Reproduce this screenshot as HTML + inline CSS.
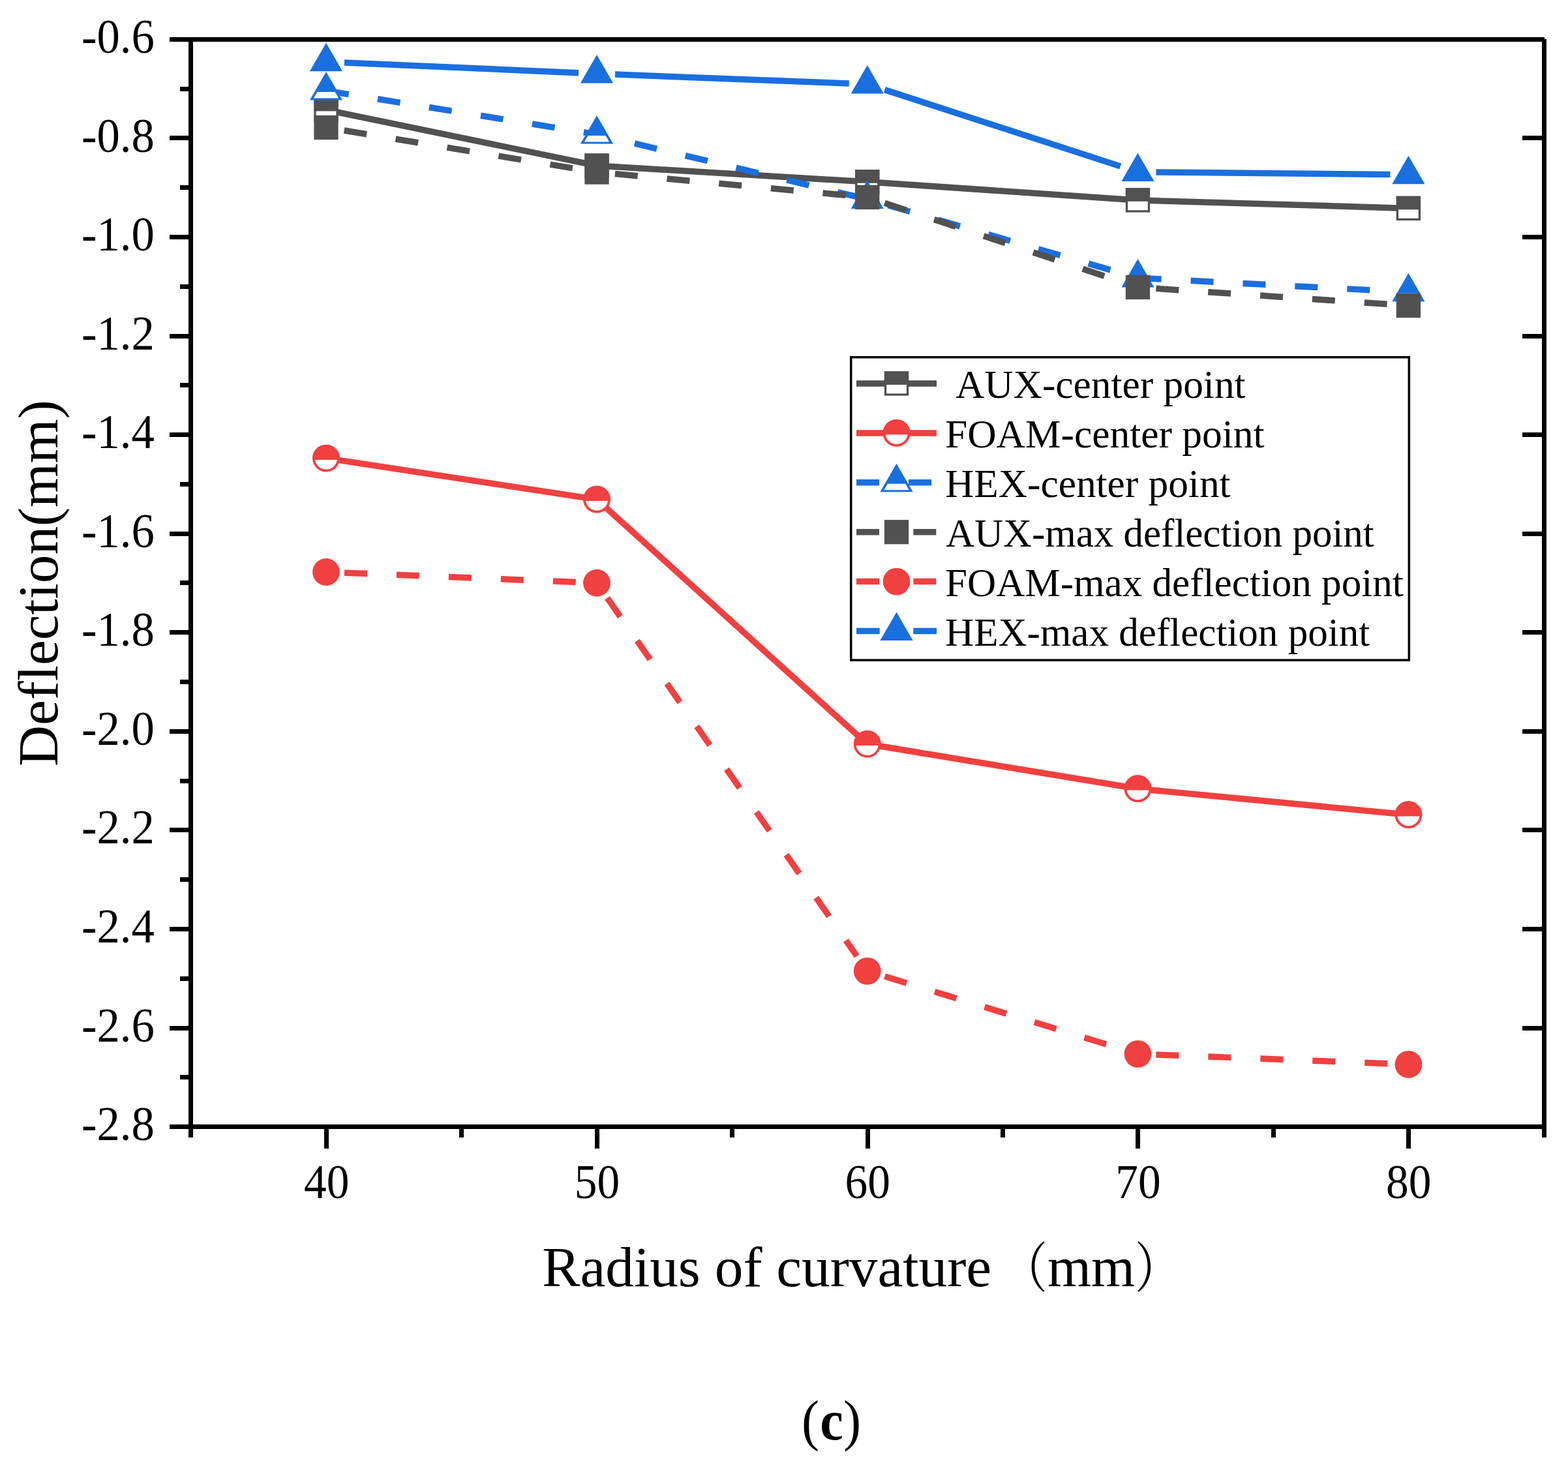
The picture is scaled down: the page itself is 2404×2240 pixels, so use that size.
<!DOCTYPE html>
<html lang="en">
<head>
<meta charset="utf-8">
<title>Deflection vs radius of curvature (c)</title>
<style>
html,body{margin:0;padding:0;background:#fff;}
body{width:2404px;height:2240px;overflow:hidden;}
svg{display:block;}
</style>
</head>
<body>
<svg width="2404" height="2240" viewBox="0 0 2404 2240">
<rect width="2404" height="2240" fill="#fff"/>
<g id="plot">
<path d="M500 168.5 L915 254 L1329.7 278.85 L1744.45 306.9 L2159.4 319.4" fill="none" stroke="#515151" stroke-width="9.5" stroke-linejoin="round"/>
<rect x="483" y="151.5" width="34" height="34" fill="#fff" stroke="#515151" stroke-width="3.3"/>
<rect x="481.35" y="149.85" width="37.3" height="20.55" fill="#515151"/>
<rect x="898" y="237" width="34" height="34" fill="#fff" stroke="#515151" stroke-width="3.3"/>
<rect x="896.35" y="235.35" width="37.3" height="20.55" fill="#515151"/>
<rect x="1312.7" y="261.85" width="34" height="34" fill="#fff" stroke="#515151" stroke-width="3.3"/>
<rect x="1311.05" y="260.2" width="37.3" height="20.55" fill="#515151"/>
<rect x="1727.45" y="289.9" width="34" height="34" fill="#fff" stroke="#515151" stroke-width="3.3"/>
<rect x="1725.8" y="288.25" width="37.3" height="20.55" fill="#515151"/>
<rect x="2142.4" y="302.4" width="34" height="34" fill="#fff" stroke="#515151" stroke-width="3.3"/>
<rect x="2140.75" y="300.75" width="37.3" height="20.55" fill="#515151"/>
<path d="M500 702.6 L915 765.7 L1329.7 1140.8 L1744.45 1209.2 L2159.4 1249.2" fill="none" stroke="#F14040" stroke-width="9.5" stroke-linejoin="round"/>
<circle cx="500" cy="702.6" r="19" fill="#fff" stroke="#F14040" stroke-width="3.8"/>
<path d="M479.23 704.9 A20.9 20.9 0 1 1 520.77 704.9 Z" fill="#F14040"/>
<circle cx="915" cy="765.7" r="19" fill="#fff" stroke="#F14040" stroke-width="3.8"/>
<path d="M894.23 768 A20.9 20.9 0 1 1 935.77 768 Z" fill="#F14040"/>
<circle cx="1329.7" cy="1140.8" r="19" fill="#fff" stroke="#F14040" stroke-width="3.8"/>
<path d="M1308.93 1143.1 A20.9 20.9 0 1 1 1350.47 1143.1 Z" fill="#F14040"/>
<circle cx="1744.45" cy="1209.2" r="19" fill="#fff" stroke="#F14040" stroke-width="3.8"/>
<path d="M1723.68 1211.5 A20.9 20.9 0 1 1 1765.22 1211.5 Z" fill="#F14040"/>
<circle cx="2159.4" cy="1249.2" r="19" fill="#fff" stroke="#F14040" stroke-width="3.8"/>
<path d="M2138.63 1251.5 A20.9 20.9 0 1 1 2180.17 1251.5 Z" fill="#F14040"/>
<path d="M500 139 L915 206 L1329.7 305.5 L1744.45 426.1 L2159.4 447.8" fill="none" stroke="#1A6FDF" stroke-width="9.5" stroke-linejoin="round" stroke-dasharray="35 45"/>
<path d="M500 110 L525.11 153.5 L474.89 153.5 Z" fill="#1A6FDF"/>
<path d="M486.37 141 L513.63 141 L519.11 150.5 L480.89 150.5 Z" fill="#fff"/>
<path d="M915 177 L940.11 220.5 L889.89 220.5 Z" fill="#1A6FDF"/>
<path d="M901.37 208 L928.63 208 L934.11 217.5 L895.89 217.5 Z" fill="#fff"/>
<path d="M1329.7 276.5 L1354.81 320 L1304.59 320 Z" fill="#1A6FDF"/>
<path d="M1316.07 307.5 L1343.33 307.5 L1348.81 317 L1310.59 317 Z" fill="#fff"/>
<path d="M1744.45 397.1 L1769.56 440.6 L1719.34 440.6 Z" fill="#1A6FDF"/>
<path d="M1730.82 428.1 L1758.08 428.1 L1763.56 437.6 L1725.34 437.6 Z" fill="#fff"/>
<path d="M2159.4 418.8 L2184.51 462.3 L2134.29 462.3 Z" fill="#1A6FDF"/>
<path d="M2145.77 449.8 L2173.03 449.8 L2178.51 459.3 L2140.29 459.3 Z" fill="#fff"/>
<path d="M527.63 200.06 L887.37 259.44" fill="none" stroke="#515151" stroke-width="9.5" stroke-dasharray="35 45"/>
<path d="M942.88 266.58 L1301.82 299.82" fill="none" stroke="#515151" stroke-width="9.5" stroke-dasharray="35 45"/>
<path d="M1356.27 311.24 L1717.88 431.56" fill="none" stroke="#515151" stroke-width="9.5" stroke-dasharray="35 45"/>
<path d="M1772.39 442.29 L2131.46 466.61" fill="none" stroke="#515151" stroke-width="9.5" stroke-dasharray="35 45"/>
<rect x="481.35" y="176.85" width="37.3" height="37.3" fill="#515151"/>
<rect x="896.35" y="245.35" width="37.3" height="37.3" fill="#515151"/>
<rect x="1311.05" y="283.75" width="37.3" height="37.3" fill="#515151"/>
<rect x="1725.8" y="421.75" width="37.3" height="37.3" fill="#515151"/>
<rect x="2140.75" y="449.85" width="37.3" height="37.3" fill="#515151"/>
<path d="M527.98 878.13 L887.02 892.62" fill="none" stroke="#F14040" stroke-width="9.5" stroke-dasharray="35 45"/>
<path d="M931.01 916.72 L1313.69 1465.88" fill="none" stroke="#F14040" stroke-width="9.5" stroke-dasharray="35 45"/>
<path d="M1356.47 1497.05 L1717.68 1607.65" fill="none" stroke="#F14040" stroke-width="9.5" stroke-dasharray="35 45"/>
<path d="M1772.43 1616.93 L2131.42 1630.82" fill="none" stroke="#F14040" stroke-width="9.5" stroke-dasharray="35 45"/>
<circle cx="500" cy="877" r="20.9" fill="#F14040"/>
<circle cx="915" cy="893.75" r="20.9" fill="#F14040"/>
<circle cx="1329.7" cy="1488.85" r="20.9" fill="#F14040"/>
<circle cx="1744.45" cy="1615.85" r="20.9" fill="#F14040"/>
<circle cx="2159.4" cy="1631.9" r="20.9" fill="#F14040"/>
<path d="M527.97 95.93 L887.03 111.77" fill="none" stroke="#1A6FDF" stroke-width="9.5"/>
<path d="M942.98 114.08 L1301.72 127.92" fill="none" stroke="#1A6FDF" stroke-width="9.5"/>
<path d="M1356.33 137.64 L1717.82 254.96" fill="none" stroke="#1A6FDF" stroke-width="9.5"/>
<path d="M1772.45 263.88 L2131.4 267.42" fill="none" stroke="#1A6FDF" stroke-width="9.5"/>
<path d="M500 65.7 L525.11 109.2 L474.89 109.2 Z" fill="#1A6FDF"/>
<path d="M915 84 L940.11 127.5 L889.89 127.5 Z" fill="#1A6FDF"/>
<path d="M1329.7 100 L1354.81 143.5 L1304.59 143.5 Z" fill="#1A6FDF"/>
<path d="M1744.45 234.6 L1769.56 278.1 L1719.34 278.1 Z" fill="#1A6FDF"/>
<path d="M2159.4 238.7 L2184.51 282.2 L2134.29 282.2 Z" fill="#1A6FDF"/>
</g>
<g id="axes" fill="#000">
<rect x="260" y="57" width="2108" height="7"/>
<rect x="289" y="57" width="7" height="1687"/>
<rect x="2364" y="60" width="7" height="1684"/>
<rect x="260" y="1724" width="2111" height="7"/>
<rect x="276" y="133" width="13" height="7"/>
<rect x="260" y="208" width="29" height="7"/>
<rect x="2334" y="208" width="30" height="7"/>
<rect x="276" y="284" width="13" height="7"/>
<rect x="260" y="360" width="29" height="7"/>
<rect x="2334" y="360" width="30" height="7"/>
<rect x="276" y="436" width="13" height="7"/>
<rect x="260" y="512" width="29" height="7"/>
<rect x="2334" y="512" width="30" height="7"/>
<rect x="276" y="587" width="13" height="7"/>
<rect x="260" y="663" width="29" height="7"/>
<rect x="2334" y="663" width="30" height="7"/>
<rect x="276" y="739" width="13" height="7"/>
<rect x="260" y="815" width="29" height="7"/>
<rect x="2334" y="815" width="30" height="7"/>
<rect x="276" y="890" width="13" height="7"/>
<rect x="260" y="966" width="29" height="7"/>
<rect x="2334" y="966" width="30" height="7"/>
<rect x="276" y="1042" width="13" height="7"/>
<rect x="260" y="1118" width="29" height="7"/>
<rect x="2334" y="1118" width="30" height="7"/>
<rect x="276" y="1194" width="13" height="7"/>
<rect x="260" y="1269" width="29" height="7"/>
<rect x="2334" y="1269" width="30" height="7"/>
<rect x="276" y="1345" width="13" height="7"/>
<rect x="260" y="1421" width="29" height="7"/>
<rect x="2334" y="1421" width="30" height="7"/>
<rect x="276" y="1497" width="13" height="7"/>
<rect x="260" y="1573" width="29" height="7"/>
<rect x="2334" y="1573" width="30" height="7"/>
<rect x="276" y="1648" width="13" height="7"/>
<rect x="497" y="1731" width="7" height="30"/>
<rect x="704" y="1731" width="7" height="13"/>
<rect x="912" y="1731" width="7" height="30"/>
<rect x="1119" y="1731" width="7" height="13"/>
<rect x="1327" y="1731" width="7" height="30"/>
<rect x="1534" y="1731" width="7" height="13"/>
<rect x="1741" y="1731" width="7" height="30"/>
<rect x="1949" y="1731" width="7" height="13"/>
<rect x="2156" y="1731" width="7" height="30"/>
</g>
<g id="ticklabels" font-family="'Liberation Serif', serif" fill="#000">
<text transform="translate(236.8 81) scale(0.9510 1)" font-size="74.3" text-anchor="end">-0.6</text>
<text transform="translate(236.8 232.55) scale(0.9510 1)" font-size="74.3" text-anchor="end">-0.8</text>
<text transform="translate(236.8 384.1) scale(0.9510 1)" font-size="74.3" text-anchor="end">-1.0</text>
<text transform="translate(236.8 535.65) scale(0.9510 1)" font-size="74.3" text-anchor="end">-1.2</text>
<text transform="translate(236.8 687.2) scale(0.9510 1)" font-size="74.3" text-anchor="end">-1.4</text>
<text transform="translate(236.8 838.75) scale(0.9510 1)" font-size="74.3" text-anchor="end">-1.6</text>
<text transform="translate(236.8 990.3) scale(0.9510 1)" font-size="74.3" text-anchor="end">-1.8</text>
<text transform="translate(236.8 1141.85) scale(0.9510 1)" font-size="74.3" text-anchor="end">-2.0</text>
<text transform="translate(236.8 1293.4) scale(0.9510 1)" font-size="74.3" text-anchor="end">-2.2</text>
<text transform="translate(236.8 1444.95) scale(0.9510 1)" font-size="74.3" text-anchor="end">-2.4</text>
<text transform="translate(236.8 1596.5) scale(0.9510 1)" font-size="74.3" text-anchor="end">-2.6</text>
<text transform="translate(236.8 1748.05) scale(0.9510 1)" font-size="74.3" text-anchor="end">-2.8</text>
<text transform="translate(500.8 1837.2) scale(0.9340 1)" font-size="74.3" text-anchor="middle">40</text>
<text transform="translate(915.55 1837.2) scale(0.9340 1)" font-size="74.3" text-anchor="middle">50</text>
<text transform="translate(1330.3 1837.2) scale(0.9340 1)" font-size="74.3" text-anchor="middle">60</text>
<text transform="translate(1745.05 1837.2) scale(0.9340 1)" font-size="74.3" text-anchor="middle">70</text>
<text transform="translate(2159.8 1837.2) scale(0.9340 1)" font-size="74.3" text-anchor="middle">80</text>
</g>
<g id="titles" font-family="'Liberation Serif', serif" fill="#000">
<text transform="translate(88 1175) rotate(-90) scale(0.9966 1)" font-size="87.5">Deflection(mm)</text>
<text transform="translate(831.2 1971.7) scale(0.9985 1)" font-size="87.5">Radius of curvature</text>
<text transform="translate(1536.76 1973.2) scale(0.8300 1)" font-size="83.2" font-family="'Liberation Serif', 'Noto Serif CJK SC', serif">（</text>
<text transform="translate(1606 1971.7) scale(0.9850 1)" font-size="87.5">mm</text>
<text transform="translate(1740.07 1973.2) scale(0.8300 1)" font-size="83.2" font-family="'Liberation Serif', 'Noto Serif CJK SC', serif">）</text>
<text transform="translate(1228.98 2206.9) scale(0.9300 1)" font-size="87.5">(</text>
<text transform="translate(1257.26 2206.9) scale(0.9150 1)" font-size="87.5" font-weight="bold">c</text>
<text transform="translate(1293.11 2206.9) scale(0.9300 1)" font-size="87.5">)</text>
</g>
<g id="legend">
<rect x="1304.7" y="547.7" width="855.6" height="464.4" fill="#fff" stroke="#000" stroke-width="3.5"/>
<path d="M1313 588 L1436 588" fill="none" stroke="#515151" stroke-width="9.5"/>
<rect x="1357.5" y="571" width="34" height="34" fill="#fff" stroke="#515151" stroke-width="3.3"/>
<rect x="1355.85" y="569.35" width="37.3" height="20.55" fill="#515151"/>
<path d="M1313 663.9 L1436 663.9" fill="none" stroke="#F14040" stroke-width="9.5"/>
<circle cx="1374.5" cy="663.9" r="19" fill="#fff" stroke="#F14040" stroke-width="3.8"/>
<path d="M1353.73 666.2 A20.9 20.9 0 1 1 1395.27 666.2 Z" fill="#F14040"/>
<path d="M1313 739.8 L1436 739.8" fill="none" stroke="#1A6FDF" stroke-width="9.5" stroke-dasharray="35 45"/>
<path d="M1374.5 710.8 L1399.61 754.3 L1349.39 754.3 Z" fill="#1A6FDF"/>
<path d="M1360.87 741.8 L1388.13 741.8 L1393.61 751.3 L1355.39 751.3 Z" fill="#fff"/>
<path d="M1313 815.7 L1348.7 815.7" fill="none" stroke="#515151" stroke-width="9.5" stroke-dasharray="35 45"/>
<path d="M1400.3 815.7 L1436 815.7" fill="none" stroke="#515151" stroke-width="9.5" stroke-dasharray="35 45"/>
<rect x="1355.85" y="797.05" width="37.3" height="37.3" fill="#515151"/>
<path d="M1313 891.6 L1348.7 891.6" fill="none" stroke="#F14040" stroke-width="9.5" stroke-dasharray="35 45"/>
<path d="M1400.3 891.6 L1436 891.6" fill="none" stroke="#F14040" stroke-width="9.5" stroke-dasharray="35 45"/>
<circle cx="1374.5" cy="891.6" r="20.9" fill="#F14040"/>
<path d="M1313 967.5 L1348.7 967.5" fill="none" stroke="#1A6FDF" stroke-width="9.5"/>
<path d="M1400.3 967.5 L1436 967.5" fill="none" stroke="#1A6FDF" stroke-width="9.5"/>
<path d="M1374.5 938.5 L1399.61 982 L1349.39 982 Z" fill="#1A6FDF"/>
<g font-family="'Liberation Serif', serif" fill="#000">
<text transform="translate(1449.67 610) scale(0.9866 1)" font-size="62.2" xml:space="preserve"> AUX-center point</text>
<text transform="translate(1449.02 685.9) scale(0.9876 1)" font-size="62.2" xml:space="preserve">FOAM-center point</text>
<text transform="translate(1449.03 761.8) scale(0.9860 1)" font-size="62.2" xml:space="preserve">HEX-center point</text>
<text transform="translate(1450.02 837.7) scale(0.9800 1)" font-size="62.2" xml:space="preserve">AUX-max deflection point</text>
<text transform="translate(1449.03 913.6) scale(0.9827 1)" font-size="62.2" xml:space="preserve">FOAM-max deflection point</text>
<text transform="translate(1449.04 989.5) scale(0.9820 1)" font-size="62.2" xml:space="preserve">HEX-max deflection point</text>
</g>
</g>
</svg>
</body>
</html>
